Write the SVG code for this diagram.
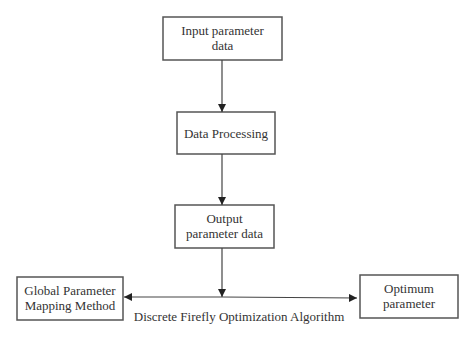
<svg xmlns="http://www.w3.org/2000/svg" width="474" height="340" viewBox="0 0 474 340">
<defs>
<style>
.box{fill:#fff;stroke:#555;stroke-width:1.5}
.t{font-family:"Liberation Serif","Times New Roman",serif;font-size:13px;fill:#333;text-anchor:middle}
.c{stroke:#444;stroke-width:1.2;fill:none}
</style>
<marker id="ah" viewBox="0 0 10 10" refX="10" refY="5" markerWidth="8" markerHeight="8" markerUnits="userSpaceOnUse" orient="auto">
<path d="M0,0 L10,5 L0,10 z" fill="#222"/>
</marker>
</defs>
<rect width="474" height="340" fill="#fff"/>
<g id="n1"><rect class="box" x="163" y="17" width="119" height="43"/><text class="t" x="222.5" y="34.5">Input parameter</text><text class="t" x="222.5" y="49.5">data</text></g>
<g id="n2"><rect class="box" x="177" y="112" width="98" height="42"/><text class="t" x="226" y="137.5">Data Processing</text></g>
<g id="n3"><rect class="box" x="175" y="205" width="99" height="43"/><text class="t" x="224.5" y="222.5">Output</text><text class="t" x="224.5" y="237.5">parameter data</text></g>
<g id="n4"><rect class="box" x="17" y="277" width="106" height="43"/><text class="t" x="70" y="294.5">Global Parameter</text><text class="t" x="70" y="309.5">Mapping Method</text></g>
<g id="n5"><rect class="box" x="360" y="275" width="98" height="43"/><text class="t" x="409" y="292.5">Optimum</text><text class="t" x="409" y="307.5">parameter</text></g>
<g id="connectors">
<line class="c" x1="222" y1="60" x2="222" y2="112" marker-end="url(#ah)"/>
<line class="c" x1="222" y1="154" x2="222" y2="205" marker-end="url(#ah)"/>
<line class="c" x1="222" y1="248" x2="222" y2="297" marker-end="url(#ah)"/>
<line class="c" x1="222" y1="297" x2="124" y2="297" marker-end="url(#ah)"/>
<line class="c" x1="222" y1="297" x2="357" y2="298" marker-end="url(#ah)"/>
</g>
<text class="t" x="239" y="321">Discrete Firefly Optimization Algorithm</text>
</svg>
